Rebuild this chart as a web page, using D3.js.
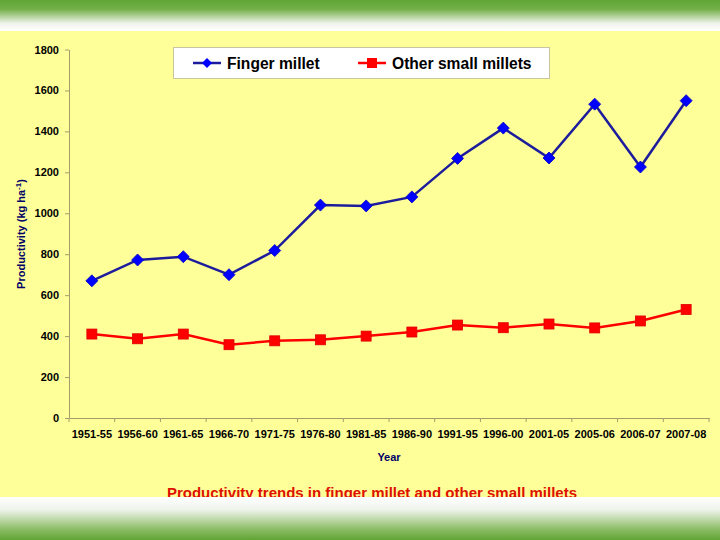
<!DOCTYPE html>
<html><head><meta charset="utf-8">
<script src="https://cdn.jsdelivr.net/npm/d3@7"></script>
<style>body{margin:0;}svg{display:block;font-family:"Liberation Sans",Arial,sans-serif;}</style>
</head><body><svg id="c" width="720" height="540"></svg>
<script>
const categories = ["1951-55","1956-60","1961-65","1966-70","1971-75","1976-80","1981-85","1986-90","1991-95","1996-00","2001-05","2005-06","2006-07","2007-08"];
const fingerMillet = [670,772,788,700,818,1040,1036,1080,1268,1416,1270,1533,1226,1550];
const otherMillets = [410,387,410,358,377,382,400,420,454,441,459,440,474,530];
const yTicks = [0,200,400,600,800,1000,1200,1400,1600,1800];
const seriesNames = ["Finger millet","Other small millets"];

const svg = d3.select("#c");
const defs = svg.append("defs");
const gt = defs.append("linearGradient").attr("id","gt").attr("x1",0).attr("y1",0).attr("x2",0).attr("y2",1);
gt.append("stop").attr("offset","0").attr("stop-color","#5fa534");
gt.append("stop").attr("offset","0.3").attr("stop-color","#74b04a");
gt.append("stop").attr("offset","0.75").attr("stop-color","#eef3ea");
gt.append("stop").attr("offset","1").attr("stop-color","#ffffff");
const gb = defs.append("linearGradient").attr("id","gb").attr("x1",0).attr("y1",0).attr("x2",0).attr("y2",1);
gb.append("stop").attr("offset","0").attr("stop-color","#ffffff");
gb.append("stop").attr("offset","0.3").attr("stop-color","#eef3ea");
gb.append("stop").attr("offset","0.75").attr("stop-color","#8cbd66");
gb.append("stop").attr("offset","1").attr("stop-color","#5fa534");

svg.append("rect").attr("width",720).attr("height",540).attr("fill","#ffff99");

const x = d3.scaleBand().domain(categories).range([69,709]);
const y = d3.scaleLinear().domain([0,1800]).range([418,49.5]);
const axisColor = "#a09e6a";

// y axis
const ya = svg.append("g").attr("transform","translate(69,0)")
  .call(d3.axisLeft(y).tickValues(yTicks).tickFormat(d3.format("d")).tickSize(4).tickSizeOuter(0).tickPadding(6));
ya.select(".domain").attr("stroke",axisColor);
ya.selectAll(".tick line").attr("stroke",axisColor);
ya.selectAll("text").attr("font-size",11).attr("fill","#000").attr("font-weight","bold").style("font-family","Liberation Sans, Arial");

// x axis
const xa = svg.append("g").attr("transform","translate(0,418)")
  .call(d3.axisBottom(x).tickSize(0).tickPadding(12));
xa.select(".domain").attr("stroke",axisColor);
xa.selectAll("text").attr("font-size",11).attr("fill","#000").attr("font-weight","bold");
svg.append("g").selectAll("line").data(categories.concat(["end"])).join("line")
  .attr("x1",(d,i)=> i<categories.length ? x(d) : x.range()[1])
  .attr("x2",(d,i)=> i<categories.length ? x(d) : x.range()[1])
  .attr("y1",418).attr("y2",422).attr("stroke",axisColor);

const cx = d => x(d)+x.bandwidth()/2;
// finger millet
svg.append("path").datum(fingerMillet)
  .attr("d", d3.line().x((d,i)=>cx(categories[i])).y(d=>y(d)))
  .attr("fill","none").attr("stroke","#1c1c9c").attr("stroke-width",2.5);
svg.append("g").selectAll("path").data(fingerMillet).join("path")
  .attr("transform",(d,i)=>`translate(${cx(categories[i])},${y(d)})`)
  .attr("d","M0,-6L6,0L0,6L-6,0Z").attr("fill","#0000ff").attr("stroke","#0000cc").attr("stroke-width",0.8);
// other
svg.append("path").datum(otherMillets)
  .attr("d", d3.line().x((d,i)=>cx(categories[i])).y(d=>y(d)))
  .attr("fill","none").attr("stroke","#ff0000").attr("stroke-width",2.5);
svg.append("g").selectAll("rect").data(otherMillets).join("rect")
  .attr("x",(d,i)=>cx(categories[i])-5).attr("y",d=>y(d)-5).attr("width",10).attr("height",10)
  .attr("fill","#ff0000").attr("stroke","#dd0000").attr("stroke-width",0.8);

// legend
svg.append("rect").attr("x",173.5).attr("y",47.5).attr("width",376).attr("height",31)
  .attr("fill","#ffffff").attr("stroke","#c8c6a0");
svg.append("line").attr("x1",193).attr("x2",221).attr("y1",63).attr("y2",63).attr("stroke","#1c1c9c").attr("stroke-width",2.5);
svg.append("path").attr("transform","translate(207,63)").attr("d","M0,-5L5,0L0,5L-5,0Z").attr("fill","#0000ff");
svg.append("text").attr("x",227).attr("y",69).attr("font-size",15.6).attr("font-weight","bold").text(seriesNames[0]);
svg.append("line").attr("x1",358).attr("x2",386).attr("y1",63).attr("y2",63).attr("stroke","#ff0000").attr("stroke-width",2.5);
svg.append("rect").attr("x",367).attr("y",58).attr("width",10).attr("height",10).attr("fill","#ff0000");
svg.append("text").attr("x",392).attr("y",69).attr("font-size",15.6).attr("font-weight","bold").text(seriesNames[1]);

// axis titles
svg.append("text").attr("transform","translate(25,234) rotate(-90)").attr("text-anchor","middle")
  .attr("font-size",11).attr("font-weight","bold").attr("fill","#000066")
  .html('Productivity (kg ha<tspan dy="-4" font-size="8">-1</tspan><tspan dy="4">)</tspan>');
svg.append("text").attr("x",389).attr("y",461).attr("text-anchor","middle")
  .attr("font-size",11).attr("font-weight","bold").attr("fill","#000066").text("Year");

// title
svg.append("text").attr("x",372).attr("y",498).attr("text-anchor","middle")
  .attr("font-size",15).attr("font-weight","bold").attr("fill","#dd1100")
  .text("Productivity trends in finger millet and other small millets");

// bands
svg.append("rect").attr("x",0).attr("y",0).attr("width",720).attr("height",31).attr("fill","url(#gt)");
svg.append("rect").attr("x",0).attr("y",497).attr("width",720).attr("height",43).attr("fill","url(#gb)");
</script></body></html>
